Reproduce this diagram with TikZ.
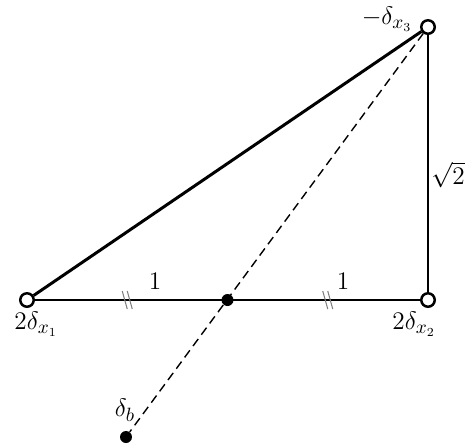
\documentclass[tikz,border=0pt]{standalone}
\usepackage{tikz}
\usetikzlibrary{calc, positioning}
\tikzstyle{opendot} = [circle, draw, fill=white, line width=1.4pt, minimum size=0.27cm, inner sep=0pt]
\tikzstyle{fulldot} = [circle, fill=black, minimum size=0.24cm, inner sep=0pt]
\tikzstyle{side} = [draw, line width=1.7pt]
\tikzstyle{median} = [draw, line width=0.8pt, dash pattern=on 5pt off 3pt]
\tikzstyle{tick} = [draw, gray, line width=0.6pt]
\tikzstyle{lab} = [inner sep=1pt, font=\fontsize{15}{18}\selectfont]

\begin{document}
\begin{tikzpicture}[x=0.02cm, y=-0.02cm]
\useasboundingbox (0,0) rectangle (474,447);
% corners
\node [opendot] (x1) at (27,300) {};
\node [opendot] (x2) at (428,300) {};
\node [opendot] (x3) at (428,27) {};
\node [fulldot] (b) at (126,437) {};
% sides
\path[side] (x1) -- (x2);
\path[side] (x2) -- (x3);
\path[side] (x3) -- (x1);
\path[median] (x3) -- (b);
\node [fulldot] (mid) at ($(x1)!0.5!(x2)$) {};
% equal marks
\coordinate (t1) at ($(x1)!0.5!(mid)$);
\coordinate (t2) at ($(mid)!0.5!(x2)$);
\foreach \t in {t1,t2} {
  \path[tick] ($(\t)+(-5,-9)$) -- ($(\t)+(0,9)$);
  \path[tick] ($(\t)+(0,-9)$) -- ($(\t)+(5,9)$);
}
% labels
\node [lab] (lx1) at (36,324) {$2\delta_{x_1}$};
\node [lab] (lx2) at (414,324) {$2\delta_{x_2}$};
\node [lab] (lx3) at (387,19) {$-\delta_{x_3}$};
\node [lab] (lb) at (125,410) {$\delta_b$};
\node [lab] (l1) at (155,281) {$1$};
\node [lab] (l2) at (343,281) {$1$};
\node [lab] (lr) at (448,175) {$\sqrt{2}$};
\end{tikzpicture}
\end{document}
